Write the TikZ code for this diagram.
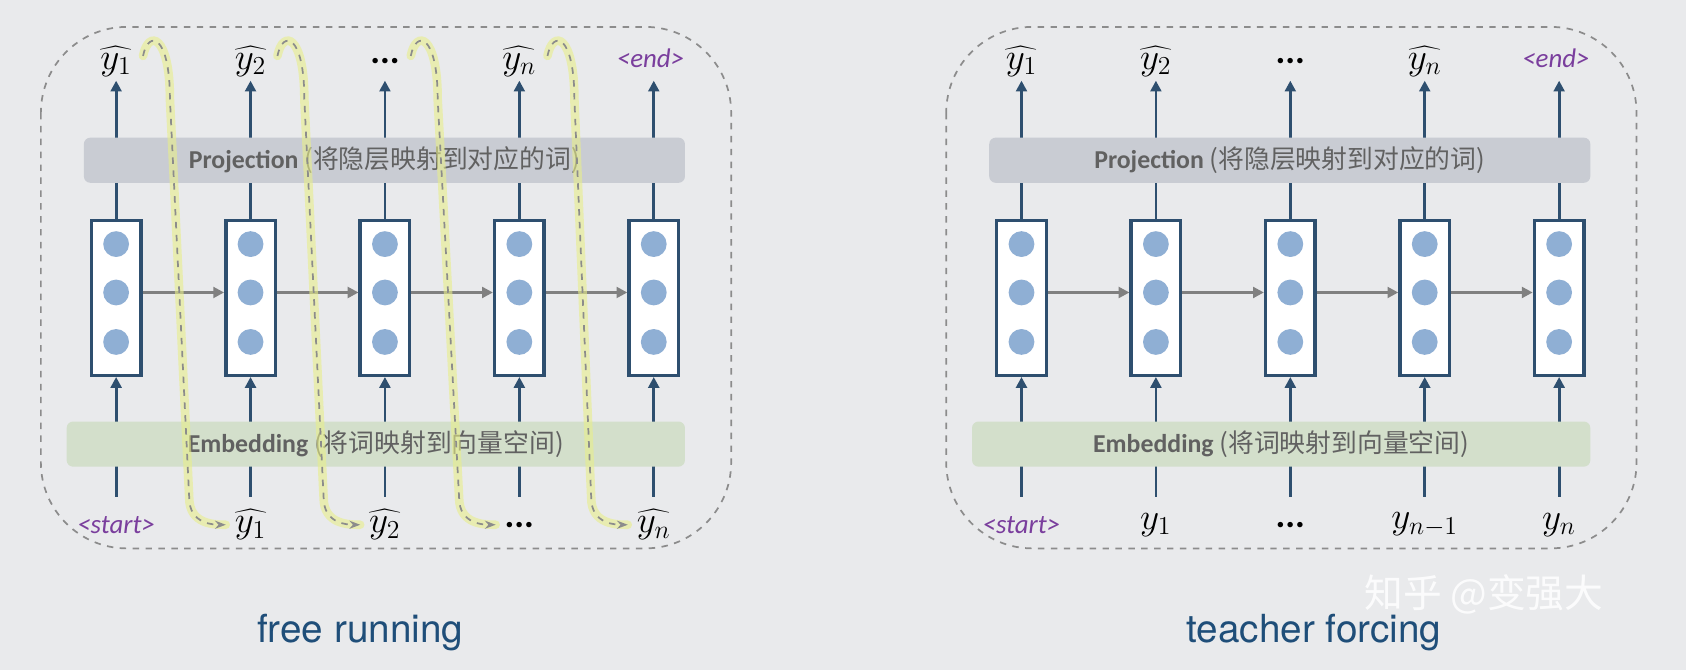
\documentclass[tikz,border=0pt]{standalone}
\usepackage{fontspec}
\setmainfont{Carlito}
\newfontfamily\cjk{Noto Sans CJK SC}
\newfontfamily\heros{TeX Gyre Heros}
\usetikzlibrary{positioning,arrows.meta,calc}
\definecolor{bgcol}{HTML}{E9EAEC}
\definecolor{linkcol}{HTML}{2E4F6F}
\definecolor{dotcol}{HTML}{8FAFD4}
\definecolor{projcol}{HTML}{C9CCD3}
\definecolor{embcol}{HTML}{D3DFCB}
\definecolor{tagcol}{HTML}{7A3E9D}
\definecolor{titlecol}{HTML}{1F4E79}
\definecolor{loopcol}{HTML}{E8EE8A}
\tikzset{
  cell/.style={draw=linkcol,line width=1.6pt,minimum width=23pt,minimum height=72pt,inner sep=0pt},
  dot/.style={circle,fill=dotcol,minimum size=12pt,inner sep=0pt},
  bar/.style={rounded corners=3pt,minimum height=21pt,inner sep=0pt,font=\bfseries\fontsize{12}{14}\selectfont,text=black!62},
  up/.style={-{Triangle[length=5pt,width=5pt]},line width=1.3pt,draw=linkcol},
  link/.style={-{Triangle[length=5pt,width=5pt]},line width=1.2pt,draw=black!50},
  word/.style={font=\fontsize{17}{20}\selectfont,inner sep=1pt},
  tag/.style={font=\itshape\fontsize{12.5}{15}\selectfont,text=tagcol,inner sep=1pt},
  title/.style={font=\heros\fontsize{18}{22}\selectfont,text=titlecol},
  fb/.style={black!45,line width=0.8pt,dashed,-{Stealth[length=5pt]}}
}
\newcommand{\cn}[1]{{\cjk\mdseries #1}}
\begin{document}
\begin{tikzpicture}[x=0.5pt,y=-0.5pt]
\fill[bgcol] (0,0) rectangle (1568,623);
\useasboundingbox (0,0) rectangle (1568,623);

\foreach \p/\dx in {L/0,R/842}{
\begin{scope}[xshift=\dx*0.5pt]
  % frame
  \draw[dashed,black!45,line width=0.8pt,rounded corners=40pt] (38,25) rectangle (680,510);
  % cells
  \foreach \i/\x in {1/108,2/233,3/358,4/483,5/608}{
    \node[cell,fill=white] (\p c\i) at (\x,277) {};
    \foreach \k/\y in {a/227,b/272,c/318}
      \node[dot] (\p d\i\k) at (\x,\y) {};
    \coordinate (\p top\i) at (\x,75);
    \coordinate (\p bot\i) at (\x,462);
    \draw[up] (\p c\i.north) -- (\p top\i);
    \draw[up] (\p bot\i) -- (\p c\i.south);
  }
  \foreach \i/\j in {1/2,2/3,3/4,4/5}
    \draw[link] (\p c\i.east|-\p d\i b) -- (\p c\j.west|-\p d\j b);
  % bars
  \node[bar,fill=projcol,minimum width=279.5pt] (\p proj) at (357.5,149) {Projection \cn{(将隐层映射到对应的词)}};
  \node[bar,fill=embcol,minimum width=287.5pt] (\p emb) at (349.5,413) {Embedding \cn{(将词映射到向量空间)}};
\end{scope}
}

% outputs
\node[word] (Lo1) at (108,57) {$\widehat{y_1}$};
\node[word] (Lo2) at (233,57) {$\widehat{y_2}$};
\node[word] (Lo3) at (358,57) {\textbf{...}};
\node[word] (Lo4) at (483,57) {$\widehat{y_n}$};
\node[tag] (Lo5) at (605,54) {<end>};
\node[word] (Ro1) at (950,57) {$\widehat{y_1}$};
\node[word] (Ro2) at (1075,57) {$\widehat{y_2}$};
\node[word] (Ro3) at (1200,57) {\textbf{...}};
\node[word] (Ro4) at (1325,57) {$\widehat{y_n}$};
\node[tag] (Ro5) at (1447,54) {<end>};
% inputs
\node[tag] (Li1) at (108,488) {<start>};
\node[word] (Li2) at (233,488) {$\widehat{y_1}$};
\node[word] (Li3) at (358,488) {$\widehat{y_2}$};
\node[word] (Li4) at (483,488) {\textbf{...}};
\node[word] (Li5) at (608,488) {$\widehat{y_n}$};
\node[tag] (Ri1) at (950,488) {<start>};
\node[word] (Ri2) at (1075,488) {$y_1$};
\node[word] (Ri3) at (1200,488) {\textbf{...}};
\node[word] (Ri4) at (1325,488) {$y_{n-1}$};
\node[word] (Ri5) at (1450,488) {$y_n$};

% feedback loops
\foreach \i/\j in {1/2,2/3,3/4,4/5}{
  \draw[loopcol,line width=4pt,line cap=round,opacity=0.6]
    ($(Lo\i.east)+(8,-5)$) .. controls +(5,-25) and +(0,-60) .. ++(25,40)
    -- ($(Li\j.west)+(-40,-25)$) .. controls +(0,25) and +(-10,0) .. ($(Li\j.west)+(-6,0)$);
  \draw[fb]
    ($(Lo\i.east)+(8,-5)$) .. controls +(5,-25) and +(0,-60) .. ++(25,40)
    -- ($(Li\j.west)+(-40,-25)$) .. controls +(0,25) and +(-10,0) .. ($(Li\j.west)+(-6,0)$);
}

% titles
\node[title] (ftitle) at (335,588) {free running};
\node[title] (ttitle) at (1222,588) {teacher forcing};
\node[font=\cjk\fontsize{18}{22}\selectfont,text=white,opacity=0.85] (mark) at (1380,553) {知乎 @变强大};
\end{tikzpicture}
\end{document}
